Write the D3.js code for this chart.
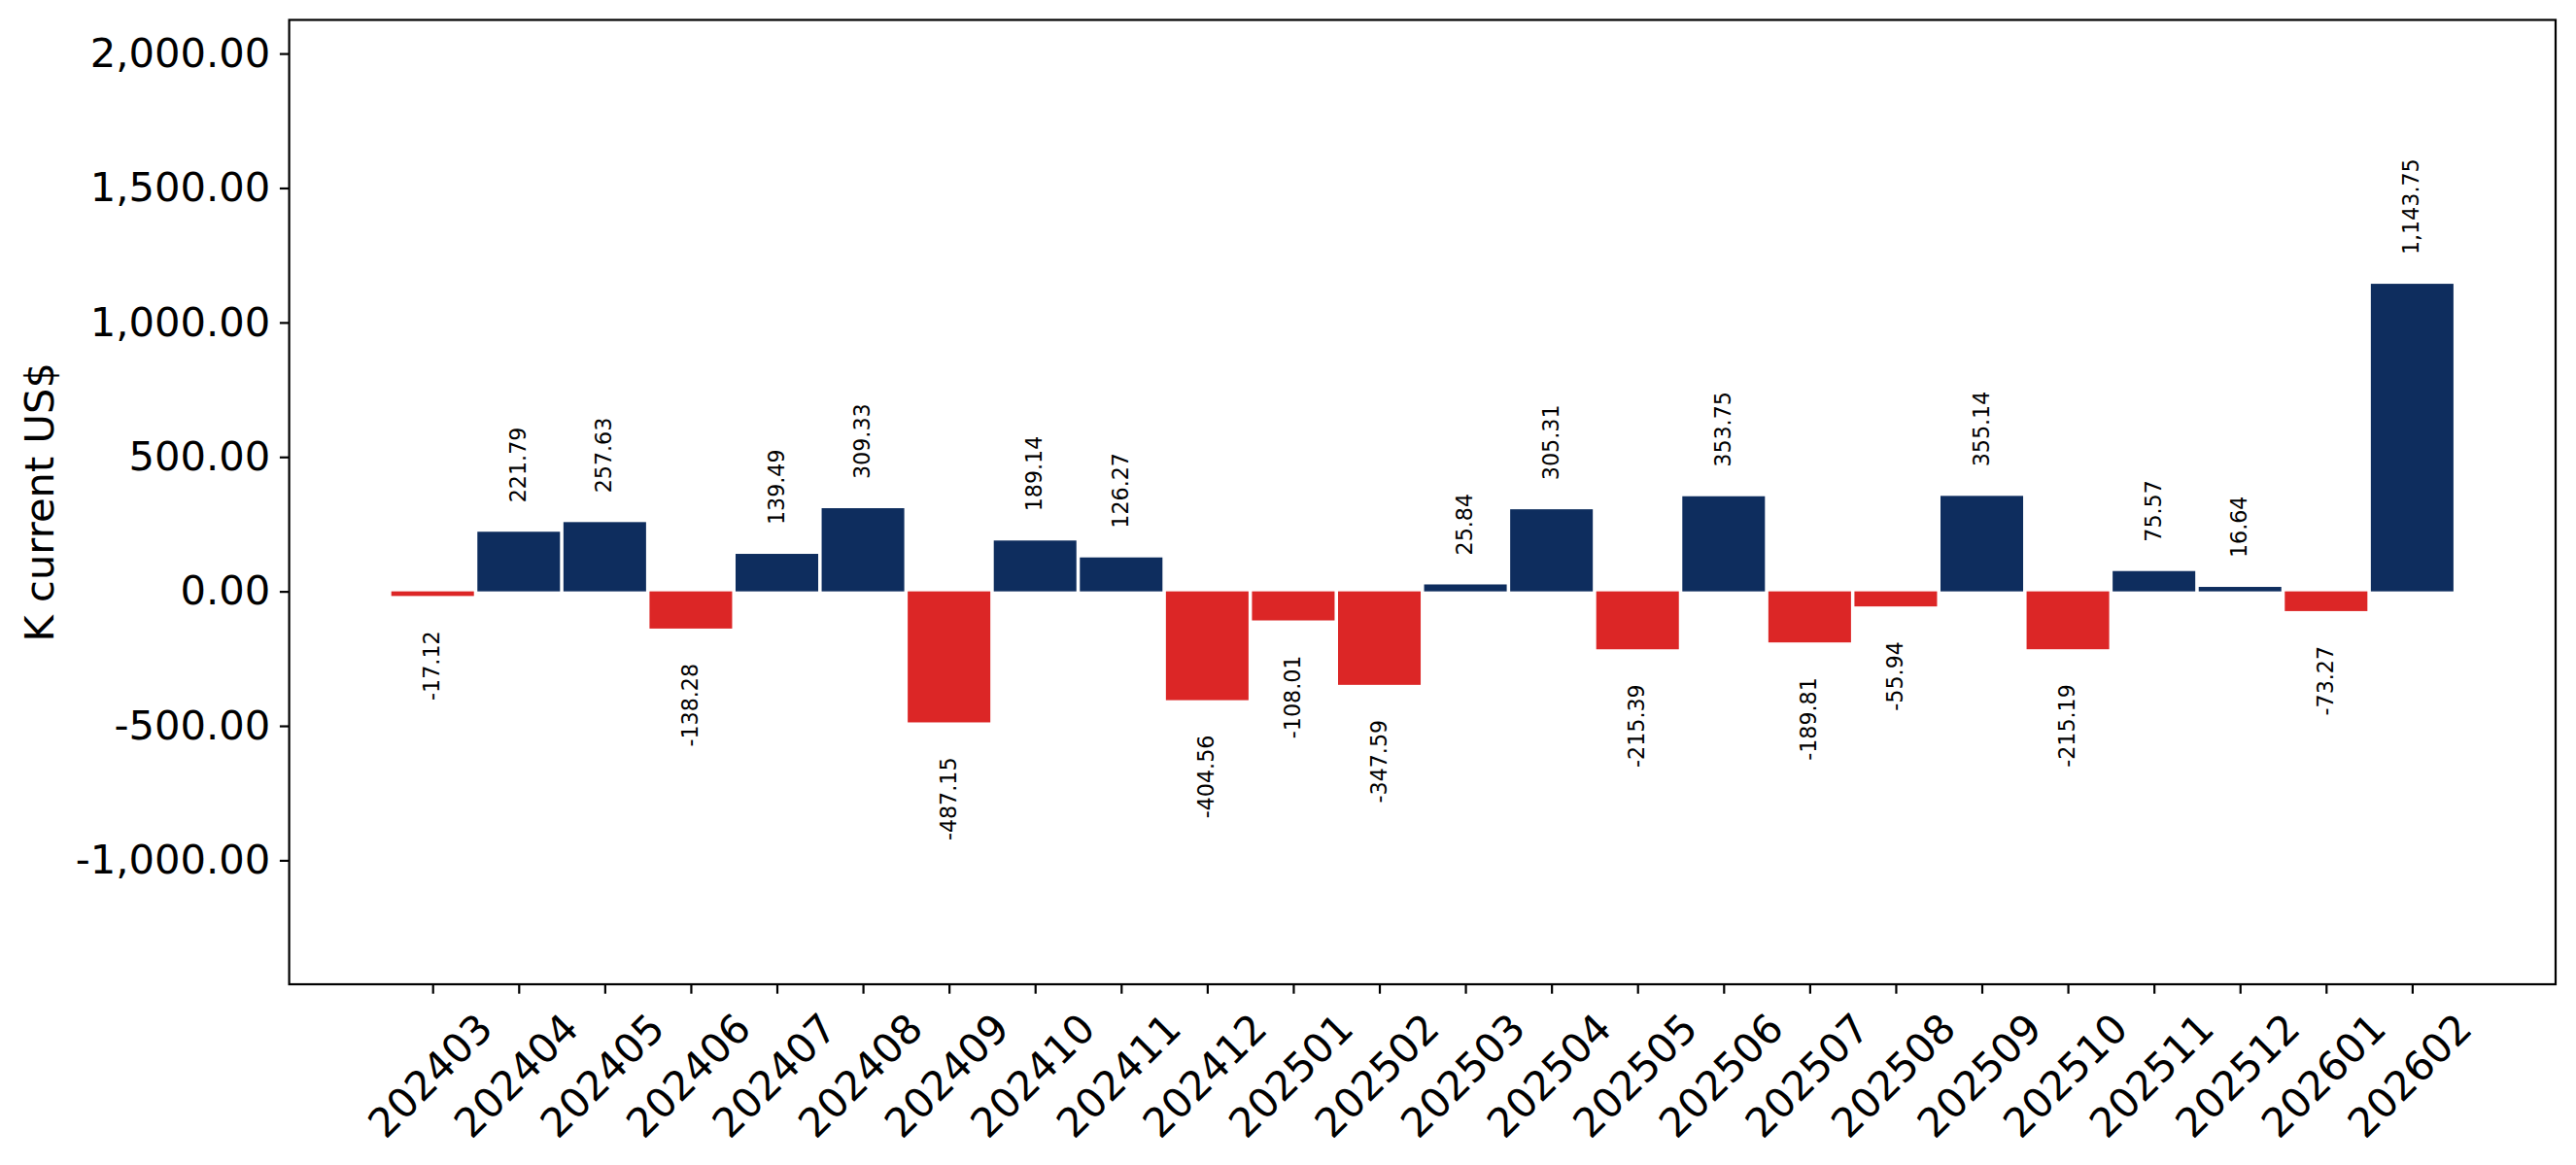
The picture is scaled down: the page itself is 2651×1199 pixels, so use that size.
<!DOCTYPE html>
<html>
<head>
<meta charset="utf-8">
<script src="https://cdn.jsdelivr.net/npm/d3@7"></script>
<style>
  html, body { margin: 0; padding: 0; background: #ffffff; }
  svg { display: block; font-family: "DejaVu Sans", sans-serif; }
</style>
</head>
<body>
<svg id="chart" width="2651" height="1199"></svg>
<script>
const categories = ["202403","202404","202405","202406","202407","202408","202409","202410","202411","202412",
  "202501","202502","202503","202504","202505","202506","202507","202508","202509","202510","202511","202512",
  "202601","202602"];
const values = [-17.12, 221.79, 257.63, -138.28, 139.49, 309.33, -487.15, 189.14, 126.27, -404.56,
  -108.01, -347.59, 25.84, 305.31, -215.39, 353.75, -189.81, -55.94, 355.14, -215.19, 75.57, 16.64,
  -73.27, 1143.75];
const yTicks = [-1000, -500, 0, 500, 1000, 1500, 2000];
const yLabel = "K current US$";

const W = 2651, H = 1199;
const plot = { left: 297.6, right: 2630, top: 20.5, bottom: 1013 };
const posColor = "#0e2d5e", negColor = "#dc2626";
const fmt0 = d3.format(",.2f");
const fmt = v => fmt0(v).replace("\u2212", "-");

const svg = d3.select("#chart");

const x = d3.scaleLinear().domain([-5/3, categories.length - 1 + 5/3]).range([plot.left, plot.right]);
const y = d3.scaleLinear().domain([-1461, 2125]).range([plot.bottom, plot.top]);
const barW = 0.96;

// bars
svg.append("g").selectAll("rect").data(values).join("rect")
  .attr("x", (d, i) => x(i - barW / 2))
  .attr("width", (d, i) => x(i + barW / 2) - x(i - barW / 2))
  .attr("y", d => y(Math.max(0, d)))
  .attr("height", d => Math.abs(y(d) - y(0)))
  .attr("fill", d => d >= 0 ? posColor : negColor);

// value labels
svg.append("g").selectAll("text").data(values).join("text")
  .attr("transform", (d, i) => {
    const yy = d >= 0 ? y(d) - 30 : y(d) + 36;
    return `translate(${x(i) + 7},${yy}) rotate(-90)`;
  })
  .attr("text-anchor", d => d >= 0 ? "start" : "end")
  .attr("font-size", 22.2)
  .attr("fill", "#000")
  .text(d => fmt(d));

// y axis
const yAxis = d3.axisLeft(y).tickValues(yTicks).tickFormat(fmt).tickSize(9.7).tickPadding(9.7);
const gy = svg.append("g").attr("transform", `translate(${plot.left},0)`).call(yAxis);
gy.select(".domain").remove();
gy.selectAll(".tick line").attr("stroke", "#000").attr("stroke-width", 2.2);
gy.selectAll(".tick text").attr("font-size", 41.67).attr("fill", "#000")
  .attr("font-family", "DejaVu Sans, sans-serif");

// x axis
const xAxis = d3.axisBottom(x).tickValues(d3.range(categories.length)).tickFormat(i => categories[i])
  .tickSize(9.7);
const gx = svg.append("g").attr("transform", `translate(0,${plot.bottom})`).call(xAxis);
gx.select(".domain").remove();
gx.selectAll(".tick line").attr("stroke", "#000").attr("stroke-width", 2.2);
gx.selectAll(".tick text")
  .attr("font-size", 41.67).attr("fill", "#000")
  .attr("font-family", "DejaVu Sans, sans-serif")
  .attr("y", null).attr("dy", null)
  .attr("text-anchor", "middle")
  .attr("dominant-baseline", "central")
  .attr("transform", "translate(-3,94) rotate(-45)");

// frame
svg.append("rect")
  .attr("x", plot.left).attr("y", plot.top)
  .attr("width", plot.right - plot.left).attr("height", plot.bottom - plot.top)
  .attr("fill", "none").attr("stroke", "#000").attr("stroke-width", 2.2);

// y label
svg.append("text")
  .attr("transform", `translate(40,${(plot.top + plot.bottom) / 2}) rotate(-90)`)
  .attr("text-anchor", "middle")
  .attr("dominant-baseline", "central")
  .attr("font-size", 41.67)
  .attr("fill", "#000")
  .text(yLabel);
</script>
</body>
</html>
